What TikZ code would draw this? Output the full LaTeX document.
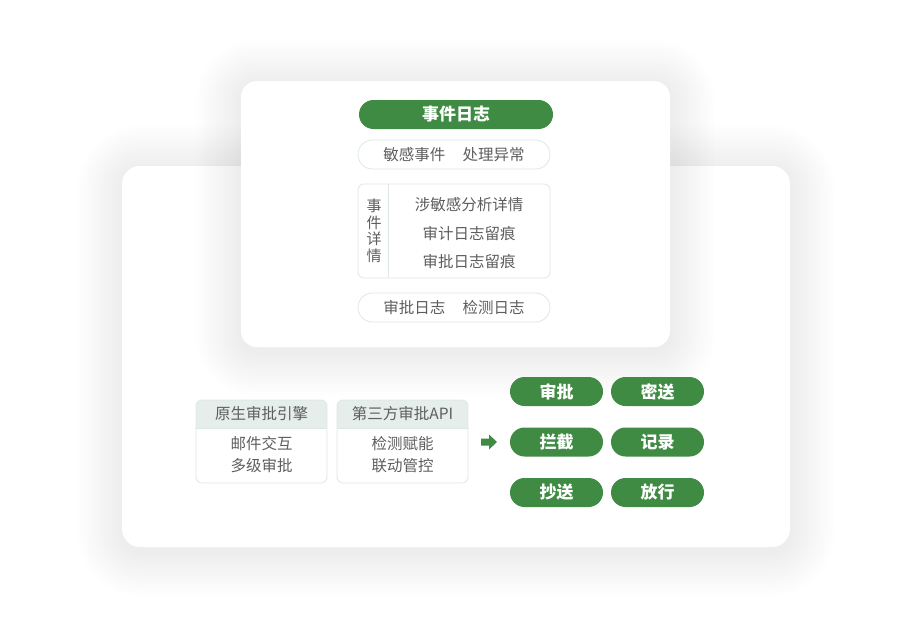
\documentclass[tikz,border=0pt]{standalone}
\usepackage{fontspec}
\setmainfont{Noto Sans CJK SC}
\definecolor{leaf}{HTML}{3F8B43}
\definecolor{txt}{HTML}{5E5E5E}
\definecolor{edge}{HTML}{DDE8E5}
\definecolor{headfill}{HTML}{E5EEEB}
\definecolor{shadowc}{HTML}{9FB2AD}
\newcommand\mysoftshadow[5]{%
  \foreach \i [evaluate=\i as \r using #5+2.5*\i] in {1,...,18}{%
    \fill[shadowc, opacity=0.004, rounded corners=\r pt]
      (#1-\i*2.5, #2-\i*2.5+4) rectangle (#3+\i*2.5, #4+\i*2.5+4);}}
\begin{document}
\begin{tikzpicture}[x=1pt,y=-1pt,
  card/.style={fill=white, rounded corners=18pt},
  greenpill/.style={fill=leaf, text=white, rounded corners=14.5pt, minimum height=29pt,
    font=\fontsize{17}{17}\selectfont\bfseries, inner sep=0pt},
  linepill/.style={draw=edge, line width=0.8pt, fill=white, rounded corners=14.5pt, minimum height=29pt,
    minimum width=192pt, text=txt, font=\fontsize{15.5}{15.5}\selectfont, inner sep=0pt},
  framebox/.style={draw=edge, line width=0.8pt, rounded corners=6pt, inner sep=0pt},
  graytext/.style={text=txt, font=\fontsize{15.5}{15.5}\selectfont, inner sep=0pt},
  actpill/.style={greenpill, minimum width=93pt, minimum height=29pt}
]
\useasboundingbox (0,0) rectangle (911,629);
\fill[white] (0,0) rectangle (911,629);

% back card
\mysoftshadow{122}{166}{790}{547}{20}
\fill[card] (122,166) rectangle (790,547);
% top card
\mysoftshadow{241}{81}{670}{347}{16}
\fill[card, rounded corners=16pt] (241,81) rectangle (670,347);

% top card content
\node[greenpill, minimum width=194pt] (log) at (456,114.5) {事件日志};
\node[linepill] (sens) at (454,154.5) {敏感事件\hspace{1.1em}处理异常};
\node[framebox, minimum width=192pt, minimum height=94pt] (detail) at (454,231) {};
\draw[edge, line width=0.8pt] ([xshift=31pt]detail.north west) -- ([xshift=31pt]detail.south west);
\node[graytext, align=center, font=\fontsize{15}{16.5}\selectfont] (dlabel) at (374,231) {事\\件\\详\\情};
\node[graytext] (d1) at (469,205) {涉敏感分析详情};
\node[graytext] (d2) at (469,234) {审计日志留痕};
\node[graytext] (d3) at (469,262) {审批日志留痕};
\node[linepill] (audit) at (454,307.5) {审批日志\hspace{1.1em}检测日志};

% bottom boxes
\begin{scope}
  \clip[rounded corners=6pt] (196,400) rectangle (327,483);
  \fill[headfill] (196,400) rectangle (327,428);
\end{scope}
\node[framebox, minimum width=131pt, minimum height=83pt] (native) at (261.5,441.5) {};
\draw[edge, line width=0.8pt] (196,428) -- (327,428);
\node[graytext] (nh) at (261.5,413.5) {原生审批引擎};
\node[graytext] (n1) at (261.5,444) {邮件交互};
\node[graytext] (n2) at (261.5,466) {多级审批};

\begin{scope}
  \clip[rounded corners=6pt] (337,400) rectangle (468,483);
  \fill[headfill] (337,400) rectangle (468,428);
\end{scope}
\node[framebox, minimum width=131pt, minimum height=83pt] (third) at (402.5,441.5) {};
\draw[edge, line width=0.8pt] (337,428) -- (468,428);
\node[graytext] (th) at (402.5,413.5) {第三方审批API};
\node[graytext] (t1) at (402.5,444) {检测赋能};
\node[graytext] (t2) at (402.5,466) {联动管控};

% arrow
\coordinate (arr) at (481,442);
\fill[leaf] (arr) ++(0,-3.5) -- ++(8,0) -- ++(0,-4) -- ++(8,7.5) -- ++(-8,7.5) -- ++(0,-4) -- ++(-8,0) -- cycle;

% action pills
\node[actpill] (a1) at (556.5,391.5) {审批};
\node[actpill] (a2) at (657.5,391.5) {密送};
\node[actpill] (a3) at (556.5,442) {拦截};
\node[actpill] (a4) at (657.5,442) {记录};
\node[actpill] (a5) at (556.5,492.5) {抄送};
\node[actpill] (a6) at (657.5,492.5) {放行};
\end{tikzpicture}
\end{document}
